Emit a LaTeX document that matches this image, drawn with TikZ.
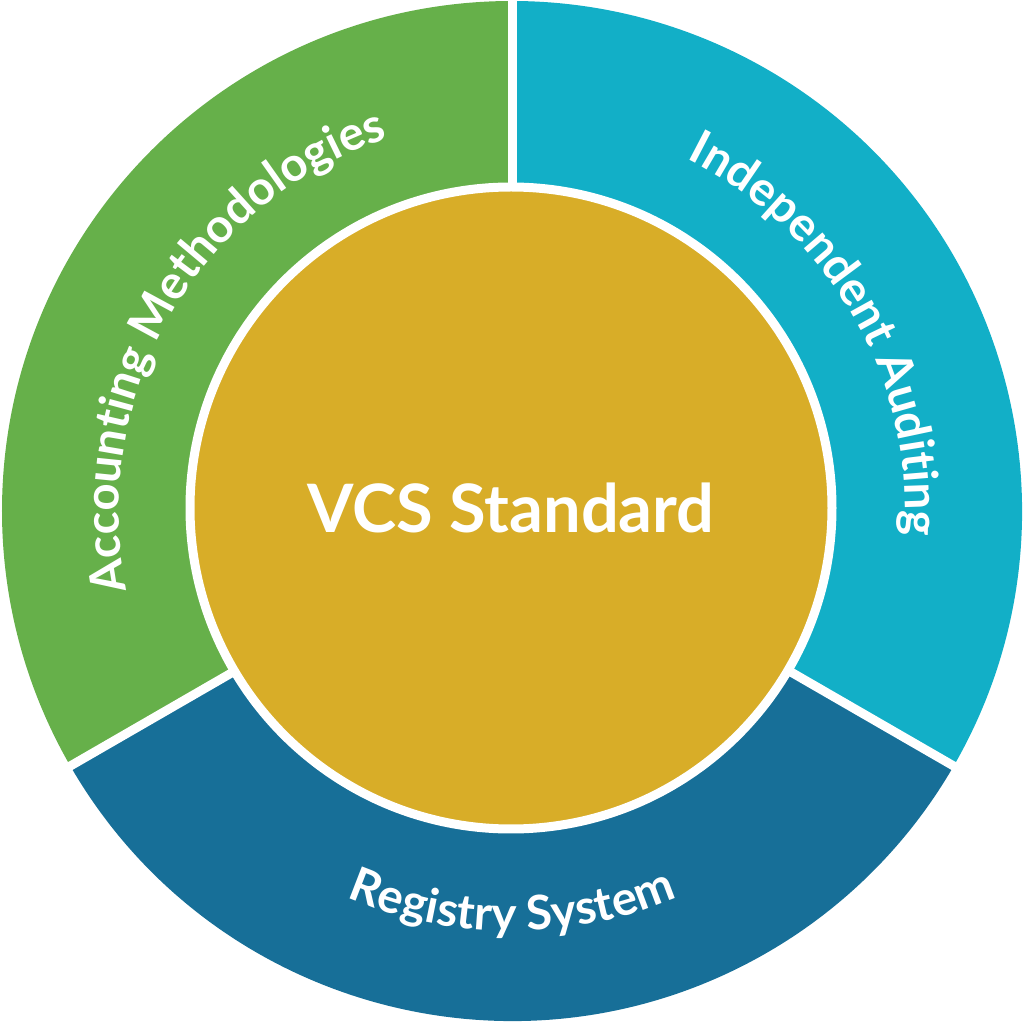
\documentclass[tikz,border=0pt]{standalone}
\usepackage{fontspec}
\setmainfont{Lato}
\usetikzlibrary{decorations.text}
\definecolor{cgreen}{HTML}{66B04A}
\definecolor{cteal}{HTML}{12AFC7}
\definecolor{cblue}{HTML}{176F98}
\definecolor{cgold}{HTML}{D8AD28}
\newcommand{\ringfont}{\fontsize{13.5}{15}\selectfont\bfseries}
\begin{document}
\begin{tikzpicture}
\useasboundingbox (0,0) rectangle (10.24,10.24);
\coordinate (c) at (5.12,5.13);
\tikzset{sep/.style={white,line width=0.9mm}}
\fill[cgreen] (c) -- ++(90:5.1) arc[start angle=90,end angle=210,radius=5.1] -- cycle;
\fill[cblue] (c) -- ++(210:5.1) arc[start angle=210,end angle=330,radius=5.1] -- cycle;
\fill[cteal] (c) -- ++(330:5.1) arc[start angle=330,end angle=450,radius=5.1] -- cycle;
\draw[sep] (c) -- ++(90:5.2);
\draw[sep] (c) -- ++(210:5.2);
\draw[sep] (c) -- ++(330:5.2);
\fill[cgold,draw=white,line width=0.9mm] (5.11,5.16) circle (3.21);
\node[white,font=\fontsize{19}{22}\selectfont\bfseries] (t) at (5.11,5.16) {VCS Standard};
\path[decorate,decoration={text along path,text align=center,
  text={|\color{white}\ringfont|Accounting Methodologies}}]
  (c) ++(210:3.93) arc[start angle=210,end angle=90,radius=3.93];
\path[decorate,decoration={text along path,text align=center,
  text={|\color{white}\ringfont|Independent Auditing}}]
  (c) ++(90:3.93) arc[start angle=90,end angle=-30,radius=3.93];
\path[decorate,decoration={text along path,text align=center,
  text={|\color{white}\ringfont|Registry System}}]
  (c) ++(210:4.2) arc[start angle=210,end angle=330,radius=4.2];
\end{tikzpicture}
\end{document}
